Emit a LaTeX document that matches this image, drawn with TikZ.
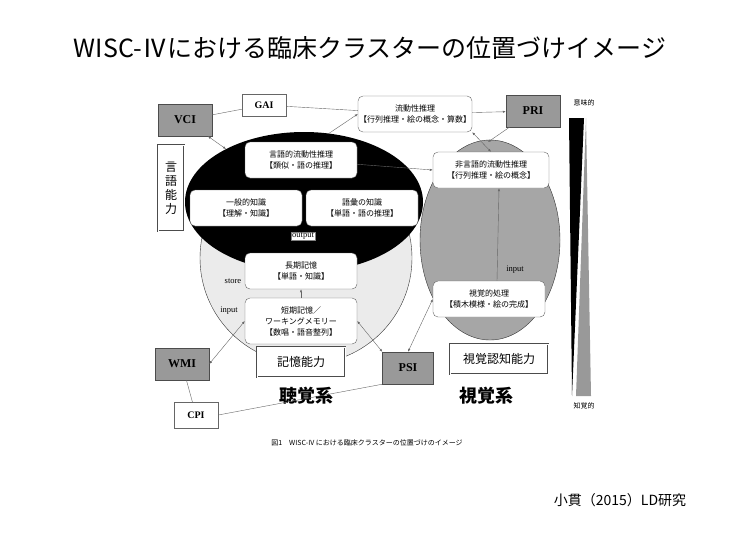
\documentclass[tikz,border=0pt]{standalone}
\usepackage{fontspec}
\setmainfont{Liberation Serif}
\newfontfamily\jp{Noto Sans CJK JP}
\usetikzlibrary{arrows.meta}

\tikzset{
  idx/.style={draw=black!70,fill=black!40,font=\bfseries\large,minimum width=54pt,minimum height=32pt,inner sep=1pt},
  sub/.style={draw=black!60,fill=white,minimum width=44pt,minimum height=22pt,font=\bfseries\normalsize},
  rbox/.style={draw=black!60,fill=white,rounded corners=5pt,align=center,font=\jp\fontsize{8}{11}\selectfont,minimum width=112pt,minimum height=36pt,inner sep=1pt},
  abil/.style={draw=black!70,double,fill=white,font=\jp\fontsize{12}{14}\selectfont,minimum height=30pt,inner sep=2pt},
  tag/.style={font=\fontsize{8.5}{10}\selectfont,inner sep=1pt},
  link/.style={black!60,thin},
  dlink/.style={black!60,thin,{Latex[length=3pt]}-{Latex[length=3pt]}},
  olink/.style={black!60,thin,-{Latex[length=3pt]}}
}

\begin{document}
\begin{tikzpicture}[x=1pt,y=-1pt]
\useasboundingbox (0,0) rectangle (735,542);
\fill[white] (0,0) rectangle (735,542);

\node[font=\jp\fontsize{25}{30}\selectfont] (title) at (370,48) {WISC-Ⅳにおける臨床クラスターの位置づけイメージ};

% regions
\fill[black!8] (306,258) circle (106);
\draw[black!80] (306,258) circle (106);
\fill[black!35] (490,240) ellipse (70 and 100);
\draw[black!80] (490,240) ellipse (70 and 100);
\fill[black] (304,202) ellipse (119 and 70);

% index boxes
\node[idx] (vci) at (185,120) {VCI};
\node[sub] (gai) at (264,105) {GAI};
\node[idx] (pri) at (533,111) {PRI};
\node[idx] (wmi) at (182,364) {WMI};
\node[idx,minimum width=51pt] (psi) at (408,368) {PSI};
\node[sub,minimum height=26pt] (cpi) at (196,415) {CPI};

% ability boxes
\node[abil,minimum width=26pt,minimum height=86pt,align=center] (gengo) at (171,188) {言\\語\\能\\力};
\node[abil,minimum width=88pt] (kioku) at (301,362) {記憶能力};
\node[abil,minimum width=98pt] (shikaku) at (499,359) {視覚認知能力};

% content boxes
\node[rbox] (ryudo) at (415,114) {流動性推理\\【行列推理・絵の概念・算数】};
\node[rbox] (gflu) at (301,160) {言語的流動性推理\\【類似・語の推理】};
\node[rbox] (ippan) at (246,208) {一般的知識\\【理解・知識】};
\node[rbox] (goi) at (362,208) {語彙の知識\\【単語・語の推理】};
\node[rbox,minimum width=116pt] (hflu) at (491,170) {非言語的流動性推理\\【行列推理・絵の概念】};
\node[rbox] (choki) at (301,271) {長期記憶\\【単語・知識】};
\node[rbox,minimum height=46pt] (tanki) at (301,321) {短期記憶／\\ワーキングメモリー\\【数唱・語音整列】};
\node[rbox] (shori) at (489,299) {視覚的処理\\【積木模様・絵の完成】};

% small labels
\node[tag,fill=white,draw=black!50] (out) at (303,236) {output};
\node[tag] (store) at (233,281) {store};
\node[tag] (inl) at (229,311) {input};
\node[tag] (inr) at (515,270) {input};

% system labels
\node[font=\jp\bfseries\fontsize{18}{22}\selectfont] (chokaku) at (306,396) {聴覚系};
\node[font=\jp\bfseries\fontsize{18}{22}\selectfont] (shikakukei) at (486,396) {視覚系};

% scale bar
\fill[black] (569,118) -- (584,118) -- (572,396) -- cycle;
\fill[black!40] (586,118) -- (576,396) -- (591,396) -- cycle;
\node[font=\jp\fontsize{7}{8}\selectfont] (imi) at (584,103) {意味的};
\node[font=\jp\fontsize{7}{8}\selectfont] (chikaku) at (584,406) {知覚的};

% connectors
\draw[link] (gai) -- (vci);
\draw[link] (gai) -- (ryudo);
\draw[olink] (ryudo) -- (pri);
\draw[dlink] (vci) -- (226,149);
\draw[olink] (328,134) -- (ryudo.west);
\draw[olink] (pri) -- (488,142);
\draw[dlink] (ryudo.south east) -- (hflu.north);
\draw[olink] (gflu) -- (hflu.west);
\draw[olink] ([xshift=8pt]shori.north) -- ([xshift=8pt]hflu.south);
\draw[olink] (tanki) -- (choki);
\draw[dlink] (wmi.east) -- (tanki.west);
\draw[dlink] (psi.north west) -- (tanki.east);
\draw[dlink] (psi.north) -- (shori.west);
\draw[link] (wmi) -- (cpi);
\draw[link] (cpi.east) -- (psi.south west);

% caption and source
\node[font=\jp\fontsize{7}{8}\selectfont] (cap) at (367,443) {図1　WISC-IV における臨床クラスターの位置づけのイメージ};
\node[font=\jp\fontsize{14}{16}\selectfont] (src) at (620,500) {小貫（2015）LD研究};
\end{tikzpicture}
\end{document}
